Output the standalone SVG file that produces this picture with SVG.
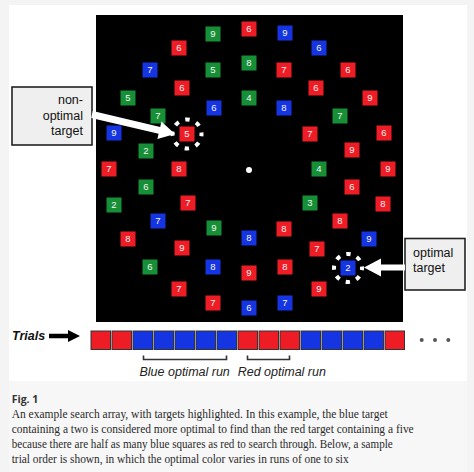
<svg xmlns="http://www.w3.org/2000/svg" width="474" height="472" viewBox="0 0 474 472">
<defs>
<style>
.sq text{fill:#f4f4f4;font-family:"Liberation Sans",Arial,sans-serif;font-size:9.5px;text-anchor:middle}
.r rect{fill:#ee1c24}
.b rect{fill:#1535e2}
.g rect{fill:#178f37}
.ring{fill:none;stroke:#fff;stroke-width:4}
.lbl{font-family:"Liberation Sans",Arial,sans-serif;font-size:12.5px;fill:#111}
.tr{stroke:#333;stroke-width:1}
.tr.red{fill:#ee1c24}
.tr.blue{fill:#1535e2}
.cap{font-family:"Liberation Serif","Times New Roman",serif;font-size:12px;fill:#2a2a2a}
.brk{fill:none;stroke:#333;stroke-width:1.6}
</style>
</defs>
<rect x="0" y="0" width="474" height="472" fill="#f4f4f4"/>
<rect x="9" y="5" width="458" height="376" fill="#ffffff"/>
<rect x="9" y="381" width="458" height="91" fill="#f7f7f7"/>
<rect x="96" y="15" width="307" height="307" fill="#000"/>
<circle cx="249" cy="170" r="3" fill="#fff"/>

<g id="squares">
<g id="s1" class="sq g" transform="translate(213,34)"><rect x="-7.5" y="-7.5" width="15" height="15"/><text y="3.3">9</text></g>
<g id="s2" class="sq r" transform="translate(249,29)"><rect x="-7.5" y="-7.5" width="15" height="15"/><text y="3.3">6</text></g>
<g id="s3" class="sq b" transform="translate(285,33)"><rect x="-7.5" y="-7.5" width="15" height="15"/><text y="3.3">9</text></g>
<g id="s4" class="sq r" transform="translate(179,48)"><rect x="-7.5" y="-7.5" width="15" height="15"/><text y="3.3">6</text></g>
<g id="s5" class="sq b" transform="translate(319,48)"><rect x="-7.5" y="-7.5" width="15" height="15"/><text y="3.3">6</text></g>
<g id="s6" class="sq b" transform="translate(150,70)"><rect x="-7.5" y="-7.5" width="15" height="15"/><text y="3.3">7</text></g>
<g id="s7" class="sq g" transform="translate(213,70)"><rect x="-7.5" y="-7.5" width="15" height="15"/><text y="3.3">5</text></g>
<g id="s8" class="sq g" transform="translate(249,63)"><rect x="-7.5" y="-7.5" width="15" height="15"/><text y="3.3">8</text></g>
<g id="s9" class="sq r" transform="translate(284,70)"><rect x="-7.5" y="-7.5" width="15" height="15"/><text y="3.3">7</text></g>
<g id="s10" class="sq r" transform="translate(348,70)"><rect x="-7.5" y="-7.5" width="15" height="15"/><text y="3.3">6</text></g>
<g id="s11" class="sq r" transform="translate(182,88)"><rect x="-7.5" y="-7.5" width="15" height="15"/><text y="3.3">6</text></g>
<g id="s12" class="sq r" transform="translate(316,88)"><rect x="-7.5" y="-7.5" width="15" height="15"/><text y="3.3">6</text></g>
<g id="s13" class="sq g" transform="translate(128,98)"><rect x="-7.5" y="-7.5" width="15" height="15"/><text y="3.3">5</text></g>
<g id="s14" class="sq g" transform="translate(249,98)"><rect x="-7.5" y="-7.5" width="15" height="15"/><text y="3.3">4</text></g>
<g id="s15" class="sq r" transform="translate(370,98)"><rect x="-7.5" y="-7.5" width="15" height="15"/><text y="3.3">9</text></g>
<g id="s16" class="sq b" transform="translate(214,108)"><rect x="-7.5" y="-7.5" width="15" height="15"/><text y="3.3">6</text></g>
<g id="s17" class="sq b" transform="translate(284,108)"><rect x="-7.5" y="-7.5" width="15" height="15"/><text y="3.3">8</text></g>
<g id="s18" class="sq g" transform="translate(158,116)"><rect x="-7.5" y="-7.5" width="15" height="15"/><text y="3.3">7</text></g>
<g id="s19" class="sq g" transform="translate(340,116)"><rect x="-7.5" y="-7.5" width="15" height="15"/><text y="3.3">7</text></g>
<g id="s21" class="sq b" transform="translate(114,133)"><rect x="-7.5" y="-7.5" width="15" height="15"/><text y="3.3">9</text></g>
<g id="s22" class="sq r" transform="translate(310,134)"><rect x="-7.5" y="-7.5" width="15" height="15"/><text y="3.3">7</text></g>
<g id="s23" class="sq r" transform="translate(384,133)"><rect x="-7.5" y="-7.5" width="15" height="15"/><text y="3.3">6</text></g>
<g id="s24" class="sq g" transform="translate(146,151)"><rect x="-7.5" y="-7.5" width="15" height="15"/><text y="3.3">2</text></g>
<g id="s25" class="sq r" transform="translate(352,150)"><rect x="-7.5" y="-7.5" width="15" height="15"/><text y="3.3">9</text></g>
<g id="s26" class="sq r" transform="translate(109,169)"><rect x="-7.5" y="-7.5" width="15" height="15"/><text y="3.3">7</text></g>
<g id="s27" class="sq r" transform="translate(179,169)"><rect x="-7.5" y="-7.5" width="15" height="15"/><text y="3.3">8</text></g>
<g id="s28" class="sq g" transform="translate(319,169)"><rect x="-7.5" y="-7.5" width="15" height="15"/><text y="3.3">4</text></g>
<g id="s29" class="sq r" transform="translate(388,169)"><rect x="-7.5" y="-7.5" width="15" height="15"/><text y="3.3">9</text></g>
<g id="s30" class="sq g" transform="translate(146,187)"><rect x="-7.5" y="-7.5" width="15" height="15"/><text y="3.3">6</text></g>
<g id="s31" class="sq r" transform="translate(352,187)"><rect x="-7.5" y="-7.5" width="15" height="15"/><text y="3.3">6</text></g>
<g id="s32" class="sq g" transform="translate(114,205)"><rect x="-7.5" y="-7.5" width="15" height="15"/><text y="3.3">2</text></g>
<g id="s33" class="sq r" transform="translate(188,203)"><rect x="-7.5" y="-7.5" width="15" height="15"/><text y="3.3">7</text></g>
<g id="s34" class="sq g" transform="translate(310,203)"><rect x="-7.5" y="-7.5" width="15" height="15"/><text y="3.3">3</text></g>
<g id="s35" class="sq r" transform="translate(383,204)"><rect x="-7.5" y="-7.5" width="15" height="15"/><text y="3.3">8</text></g>
<g id="s36" class="sq b" transform="translate(158,221)"><rect x="-7.5" y="-7.5" width="15" height="15"/><text y="3.3">7</text></g>
<g id="s37" class="sq r" transform="translate(340,221)"><rect x="-7.5" y="-7.5" width="15" height="15"/><text y="3.3">8</text></g>
<g id="s38" class="sq g" transform="translate(214,228)"><rect x="-7.5" y="-7.5" width="15" height="15"/><text y="3.3">9</text></g>
<g id="s39" class="sq r" transform="translate(284,229)"><rect x="-7.5" y="-7.5" width="15" height="15"/><text y="3.3">8</text></g>
<g id="s40" class="sq b" transform="translate(249,238)"><rect x="-7.5" y="-7.5" width="15" height="15"/><text y="3.3">8</text></g>
<g id="s41" class="sq r" transform="translate(128,239)"><rect x="-7.5" y="-7.5" width="15" height="15"/><text y="3.3">8</text></g>
<g id="s42" class="sq b" transform="translate(369,239)"><rect x="-7.5" y="-7.5" width="15" height="15"/><text y="3.3">9</text></g>
<g id="s43" class="sq r" transform="translate(182,248)"><rect x="-7.5" y="-7.5" width="15" height="15"/><text y="3.3">9</text></g>
<g id="s44" class="sq r" transform="translate(317,249)"><rect x="-7.5" y="-7.5" width="15" height="15"/><text y="3.3">7</text></g>
<g id="s45" class="sq g" transform="translate(150,267)"><rect x="-7.5" y="-7.5" width="15" height="15"/><text y="3.3">6</text></g>
<g id="s46" class="sq b" transform="translate(213,267)"><rect x="-7.5" y="-7.5" width="15" height="15"/><text y="3.3">8</text></g>
<g id="s47" class="sq r" transform="translate(249,273)"><rect x="-7.5" y="-7.5" width="15" height="15"/><text y="3.3">9</text></g>
<g id="s48" class="sq r" transform="translate(285,267)"><rect x="-7.5" y="-7.5" width="15" height="15"/><text y="3.3">8</text></g>
<g id="s50" class="sq r" transform="translate(179,289)"><rect x="-7.5" y="-7.5" width="15" height="15"/><text y="3.3">7</text></g>
<g id="s51" class="sq r" transform="translate(319,289)"><rect x="-7.5" y="-7.5" width="15" height="15"/><text y="3.3">9</text></g>
<g id="s52" class="sq r" transform="translate(213,303)"><rect x="-7.5" y="-7.5" width="15" height="15"/><text y="3.3">7</text></g>
<g id="s53" class="sq b" transform="translate(249,308)"><rect x="-7.5" y="-7.5" width="15" height="15"/><text y="3.3">6</text></g>
<g id="s54" class="sq b" transform="translate(285,303)"><rect x="-7.5" y="-7.5" width="15" height="15"/><text y="3.3">7</text></g>
</g>

<g id="target-nonoptimal" class="sq r" transform="translate(187,134)"><rect x="-7.5" y="-7.5" width="15" height="15"/><text y="3.3">5</text><circle class="ring" r="14.5" stroke-dasharray="4.5 6.89" stroke-dashoffset="2.25"/></g>
<g id="target-optimal" class="sq b" transform="translate(348,268)"><rect x="-7.5" y="-7.5" width="15" height="15"/><text y="3.3">2</text><circle class="ring" r="14" stroke-dasharray="4.4 6.6" stroke-dashoffset="2.2"/></g>

<g id="label-nonoptimal">
<rect x="12" y="87" width="80" height="58" fill="#efefef" stroke="#222" stroke-width="1.6"/>
<text class="lbl" text-anchor="end"><tspan x="83" y="104">non-</tspan><tspan x="83" y="119.5">optimal</tspan><tspan x="83" y="135">target</tspan></text>
</g>
<g id="label-optimal">
<rect x="405" y="238.5" width="60" height="51.5" fill="#efefef" stroke="#222" stroke-width="1.6"/>
<text class="lbl" font-size="13"><tspan x="413" y="257">optimal</tspan><tspan x="413" y="272">target</tspan></text>
</g>

<g id="connectors">
<polygon points="92.8,111.1 160.2,126.9 161.4,121.5 175,134 157.4,139.1 158.6,133.7 91.2,117.9" fill="#fff"/>
<polygon points="405,264.5 381,264.5 381,258.5 364,267.5 381,276.5 381,270.5 405,270.5" fill="#fff"/>
<polygon points="49,333.8 68,333.8 68,330 80,336 68,342 68,338.2 49,338.2" fill="#000"/>
</g>

<g id="trials">
<text x="12" y="340" font-family="'Liberation Sans',Arial,sans-serif" font-size="12.5" font-weight="bold" font-style="italic" fill="#111">Trials</text>
<rect class="tr red" x="91" y="331" width="19.5" height="18.5"/>
<rect class="tr red" x="112" y="331" width="19.5" height="18.5"/>
<rect class="tr blue" x="133" y="331" width="19.5" height="18.5"/>
<rect class="tr blue" x="154" y="331" width="19.5" height="18.5"/>
<rect class="tr blue" x="175" y="331" width="19.5" height="18.5"/>
<rect class="tr blue" x="196" y="331" width="19.5" height="18.5"/>
<rect class="tr blue" x="217" y="331" width="19.5" height="18.5"/>
<rect class="tr red" x="238" y="331" width="19.5" height="18.5"/>
<rect class="tr red" x="259" y="331" width="19.5" height="18.5"/>
<rect class="tr red" x="280" y="331" width="19.5" height="18.5"/>
<rect class="tr blue" x="301" y="331" width="19.5" height="18.5"/>
<rect class="tr blue" x="322" y="331" width="19.5" height="18.5"/>
<rect class="tr blue" x="343" y="331" width="19.5" height="18.5"/>
<rect class="tr blue" x="364" y="331" width="19.5" height="18.5"/>
<rect class="tr red" x="385" y="331" width="19.5" height="18.5"/>
<circle cx="421.7" cy="340" r="2" fill="#555"/>
<circle cx="435" cy="340" r="2" fill="#555"/>
<circle cx="448.3" cy="340" r="2" fill="#555"/>
<path class="brk" d="M143.5,355.5 V359.5 H226.5 V355.5"/>
<path class="brk" d="M247.5,355.5 V359.5 H289.5 V355.5"/>
<text x="139.5" y="376" font-family="'Liberation Sans',Arial,sans-serif" font-size="12.5" font-style="italic" fill="#222">Blue optimal run</text>
<text x="237.7" y="376" font-family="'Liberation Sans',Arial,sans-serif" font-size="12.5" font-style="italic" fill="#222">Red optimal run</text>
</g>

<g id="caption">
<text x="11.7" y="403" font-family="'Open Sans','Liberation Sans',sans-serif" font-size="10.5" font-weight="bold" fill="#333">Fig. 1</text>
<text class="cap" x="11.7" y="418.3" textLength="376" lengthAdjust="spacingAndGlyphs">An example search array, with targets highlighted. In this example, the blue target</text>
<text class="cap" x="11.7" y="433.3" textLength="402" lengthAdjust="spacingAndGlyphs">containing a two is considered more optimal to find than the red target containing a five</text>
<text class="cap" x="11.7" y="448.3" textLength="381" lengthAdjust="spacingAndGlyphs">because there are half as many blue squares as red to search through. Below, a sample</text>
<text class="cap" x="11.7" y="463.3" textLength="337" lengthAdjust="spacingAndGlyphs">trial order is shown, in which the optimal color varies in runs of one to six</text>
</g>
</svg>
